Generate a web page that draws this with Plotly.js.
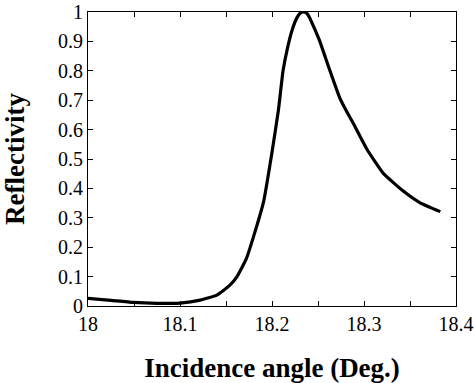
<!DOCTYPE html>
<html>
<head>
<meta charset="utf-8">
<script src="https://cdn.plot.ly/plotly-3.0.1.min.js"></script>
<style>html,body{margin:0;padding:0;background:#fff;}#chart{width:474px;height:383px;}</style>
</head>
<body>
<div id="chart"></div>
<script>
const angle = [18.0, 18.025, 18.049, 18.075, 18.1, 18.122, 18.14, 18.154, 18.162, 18.172, 18.181, 18.191, 18.2, 18.207, 18.212, 18.217, 18.222, 18.227, 18.231, 18.234, 18.238, 18.241, 18.246, 18.252, 18.263, 18.274, 18.28, 18.288, 18.303, 18.321, 18.343, 18.361, 18.383];
const reflectivity = [0.026, 0.019, 0.012, 0.009, 0.01, 0.02, 0.037, 0.07, 0.1, 0.16, 0.247, 0.357, 0.523, 0.667, 0.8, 0.88, 0.94, 0.98, 0.997, 1.0, 0.995, 0.98, 0.945, 0.9, 0.8, 0.705, 0.668, 0.623, 0.534, 0.451, 0.39, 0.351, 0.321];
const xTickVals = [18, 18.1, 18.2, 18.3, 18.4];
const xTickText = ["18", "18.1", "18.2", "18.3", "18.4"];
const yTickVals = [0, 0.1, 0.2, 0.3, 0.4, 0.5, 0.6, 0.7, 0.8, 0.9, 1];
const yTickText = ["0", "0.1", "0.2", "0.3", "0.4", "0.5", "0.6", "0.7", "0.8", "0.9", "1"];

const font = {family: "Liberation Serif, Times New Roman, serif", color: "#000"};

Plotly.newPlot("chart", [{
  x: angle, y: reflectivity, type: "scatter", mode: "lines",
  line: {color: "#000", width: 3.2, shape: "spline", smoothing: 0.4},
  hoverinfo: "skip"
}], {
  width: 474, height: 383,
  margin: {l: 88, r: 18, t: 12, b: 77},
  paper_bgcolor: "#fff", plot_bgcolor: "#fff",
  showlegend: false,
  font: Object.assign({size: 20}, font),
  xaxis: {
    range: [18, 18.4], tickvals: xTickVals, ticktext: xTickText,
    ticks: "inside", ticklen: 5, tickcolor: "#000", tickwidth: 1,
    minor: {dtick: 0.05, tick0: 18, ticks: "inside", ticklen: 5, tickcolor: "#000"},
    showline: true, linecolor: "#000", linewidth: 1, mirror: "ticks",
    showgrid: false, zeroline: false, ticklabeloverflow: "allow",
    tickfont: Object.assign({size: 20}, font),
    title: {text: "<b>Incidence angle (Deg.)</b>", font: Object.assign({size: 27}, font), standoff: 24}
  },
  yaxis: {
    range: [0, 1], tickvals: yTickVals, ticktext: yTickText,
    ticks: "inside", ticklen: 5, tickcolor: "#000", tickwidth: 1,
    showline: true, linecolor: "#000", linewidth: 1, mirror: "ticks",
    showgrid: false, zeroline: false, ticklabeloverflow: "allow",
    tickfont: Object.assign({size: 20}, font),
    title: {text: "<b>Reflectivity</b>", font: Object.assign({size: 27}, font), standoff: 28}
  }
}, {displayModeBar: false, staticPlot: true});
</script>
</body>
</html>
